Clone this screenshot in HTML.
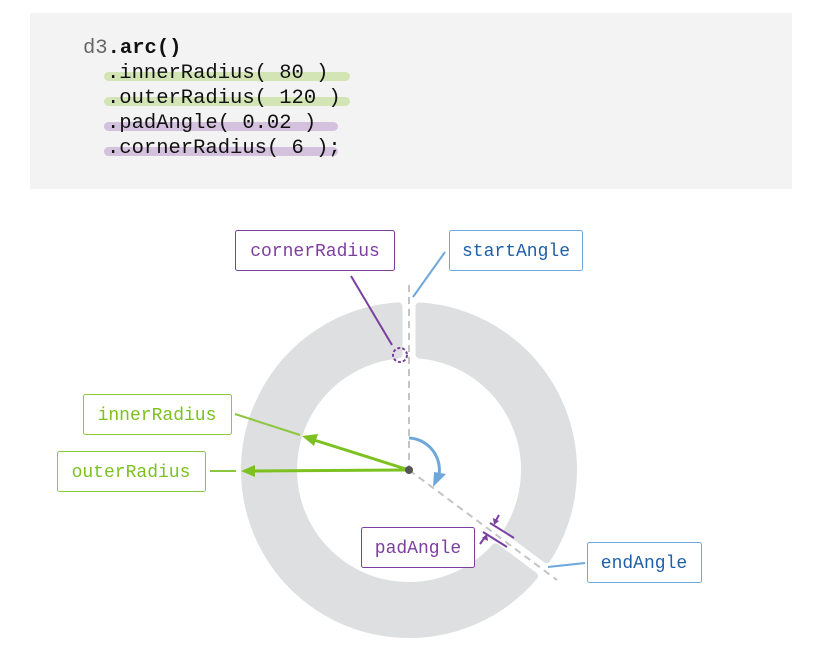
<!DOCTYPE html>
<html><head><meta charset="utf-8"><style>
body{margin:0;background:#fff;width:831px;height:670px;overflow:hidden;font-family:"Liberation Mono",monospace}
</style></head><body>
<svg width="831" height="670" xmlns="http://www.w3.org/2000/svg" style="position:absolute;left:0;top:0">
<rect x="30" y="13" width="762" height="176" fill="#f3f3f3"/>
<rect x="104" y="72" width="246" height="9" rx="4.5" fill="#d3e5b5"/>
<rect x="104" y="97" width="246" height="9" rx="4.5" fill="#d3e5b5"/>
<rect x="104" y="122" width="234" height="9" rx="4.5" fill="#d3c1dd"/>
<rect x="104" y="147" width="234" height="9" rx="4.5" fill="#d3c1dd"/>
<g font-family="Liberation Mono, monospace" font-size="20.5" fill="#111">
<text x="83" y="53"><tspan fill="#666">d3</tspan><tspan font-weight="bold">.arc()</tspan></text>
<text x="107" y="78">.innerRadius( 80 )</text>
<text x="107" y="103">.outerRadius( 120 )</text>
<text x="107" y="128">.padAngle( 0.02 )</text>
<text x="107" y="153">.cornerRadius( 6 );</text>
</g>
<path id="a1" fill="#dedfe0" stroke="#dedfe0" stroke-width="8" stroke-linejoin="round"/>
<path id="a2" fill="#dedfe0" stroke="#dedfe0" stroke-width="8" stroke-linejoin="round"/>
<g stroke="#c4c4c4" stroke-width="2" stroke-dasharray="7,5" fill="none">
<line x1="409" y1="285" x2="409" y2="470"/>
<line x1="409" y1="470" x2="557" y2="580"/>
</g>
<line x1="351" y1="276" x2="392" y2="345" stroke="#7b3fa0" stroke-width="2"/>
<circle cx="400" cy="355" r="7" fill="none" stroke="#7b3fa0" stroke-width="2" stroke-dasharray="3,2"/>
<line x1="445" y1="252" x2="413" y2="297" stroke="#6ea8db" stroke-width="2"/>
<line x1="235" y1="414" x2="300" y2="435" stroke="#8dc63f" stroke-width="2"/>
<line x1="409" y1="470" x2="314" y2="440" stroke="#7cc120" stroke-width="3"/>
<polygon points="302,436 318,434 314,446" fill="#7cc120"/>
<line x1="210" y1="471" x2="236" y2="471" stroke="#8dc63f" stroke-width="2"/>
<line x1="409" y1="470" x2="252" y2="471" stroke="#7cc120" stroke-width="3"/>
<polygon points="241,471 255,465 255,477" fill="#7cc120"/>
<path d="M409,438 A32,32 0 0 1 439,475" fill="none" stroke="#6ea8db" stroke-width="3"/>
<polygon points="433,487 446,474 434,472" fill="#6ea8db"/>
<circle cx="409" cy="470" r="4" fill="#555"/>
<g stroke="#7b3fa0" stroke-width="2">
<line x1="490" y1="523" x2="514" y2="538"/>
<line x1="483" y1="532" x2="507" y2="547"/>
<line x1="499" y1="515" x2="495" y2="522"/>
<line x1="480" y1="544" x2="485" y2="537"/>
</g>
<polygon points="494,525 493,518 499,521" fill="#7b3fa0"/>
<polygon points="487,534 488,541 482,538" fill="#7b3fa0"/>
<line x1="585" y1="563" x2="548" y2="567" stroke="#6ea8db" stroke-width="2"/>
<g font-family="Liberation Mono, monospace" font-size="18" text-anchor="middle">
<rect x="235.5" y="230.5" width="159" height="40" rx="2" fill="#fff" stroke="#7b3fa0"/>
<text x="315" y="256" fill="#7b3fa0">cornerRadius</text>
<rect x="449.5" y="230.5" width="133" height="40" rx="2" fill="#fff" stroke="#6ea8db"/>
<text x="516" y="256" fill="#1f5fa8">startAngle</text>
<rect x="83.5" y="394.5" width="148" height="40" rx="2" fill="#fff" stroke="#8dc63f"/>
<text x="157" y="420" fill="#7cc120">innerRadius</text>
<rect x="57.5" y="451.5" width="148" height="40" rx="2" fill="#fff" stroke="#8dc63f"/>
<text x="131" y="477" fill="#7cc120">outerRadius</text>
<rect x="361.5" y="527.5" width="113" height="40" rx="2" fill="#fff" stroke="#7b3fa0"/>
<text x="418" y="553" fill="#7b3fa0">padAngle</text>
<rect x="587.5" y="542.5" width="114" height="40" rx="2" fill="#fff" stroke="#6ea8db"/>
<text x="644" y="568" fill="#1f5fa8">endAngle</text>
</g>
</svg>
<script>
(function(){
var cx=409,cy=470,R=164,r=116,h=10.5,E=2.21;
function P(rad,a){return [cx+rad*Math.sin(a),cy-rad*Math.cos(a)];}
function seg(a0,a1){
 var o0=a0+Math.asin(h/R),o1=a1-Math.asin(h/R),i0=a0+Math.asin(h/r),i1=a1-Math.asin(h/r);
 var p1=P(R,o0),p2=P(R,o1),p3=P(r,i1),p4=P(r,i0);
 var lo=(o1-o0)>Math.PI?1:0, li=(i1-i0)>Math.PI?1:0;
 return "M"+p1+" A"+R+","+R+" 0 "+lo+" 1 "+p2+" L"+p3+" A"+r+","+r+" 0 "+li+" 0 "+p4+" Z";
}
document.getElementById("a1").setAttribute("d",seg(0,E));
document.getElementById("a2").setAttribute("d",seg(E,Math.PI*2));
})();
</script>
</body></html>
